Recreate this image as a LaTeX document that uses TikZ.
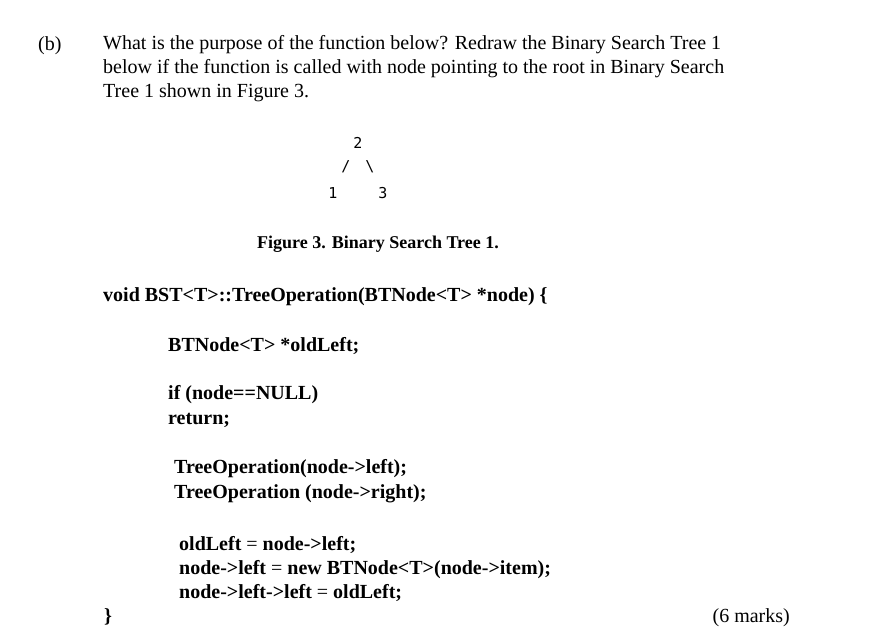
\documentclass[tikz,border=0pt]{standalone}
\usepackage{fontspec}
\setmainfont{Liberation Serif}
\newfontfamily\treefont{DejaVu Sans Mono}
\begin{document}
\begin{tikzpicture}[x=1pt,y=-1pt,
  txt/.style={anchor=base west,inner sep=0pt,font=\fontsize{20}{24}\selectfont},
  code/.style={txt,font=\fontsize{20}{24}\selectfont\bfseries},
  tr/.style={anchor=base,inner sep=0pt,font=\fontsize{15}{18}\treefont}]
\useasboundingbox[fill=white] (0,0) rectangle (886,638);
\node[txt] (lab) at (38,50) {(b)};
\node[txt] (l1) at (103,49) {What is the purpose of the function below? Redraw the Binary Search Tree 1};
\node[txt] (l2) at (103,73) {below if the function is called with node pointing to the root in Binary Search};
\node[txt] (l3) at (103,97) {Tree 1 shown in Figure 3.};
\node[tr] (t2) at (358,148) {2};
\node[tr] (ts) at (346,171) {/};
\node[tr] (tb) at (370,171) {\textbackslash};
\node[tr] (t1) at (333,198) {1};
\node[tr] (t3) at (383,198) {3};
\node[anchor=base,inner sep=0pt,font=\fontsize{18}{22}\selectfont\bfseries] (cap) at (378,248) {Figure 3. Binary Search Tree 1.};
\node[code] (c1) at (103,301) {void BST<T>::TreeOperation(BTNode<T> *node) \{};
\node[code] (c2) at (168,351) {BTNode<T> *oldLeft;};
\node[code] (c3) at (168,399) {if (node==NULL)};
\node[code] (c4) at (168,424) {return;};
\node[code] (c5) at (174,473) {TreeOperation(node->left);};
\node[code] (c6) at (174,498) {TreeOperation (node->right);};
\node[code] (c7) at (179,550) {oldLeft {\mdseries=} node->left;};
\node[code] (c8) at (179,574) {node->left {\mdseries=} new BTNode<T>(node->item);};
\node[code] (c9) at (179,598) {node->left->left {\mdseries=} oldLeft;};
\node[code] (c10) at (104,622) {\}};
\node[txt,anchor=base east] (marks) at (790,622) {(6 marks)};
\end{tikzpicture}
\end{document}
